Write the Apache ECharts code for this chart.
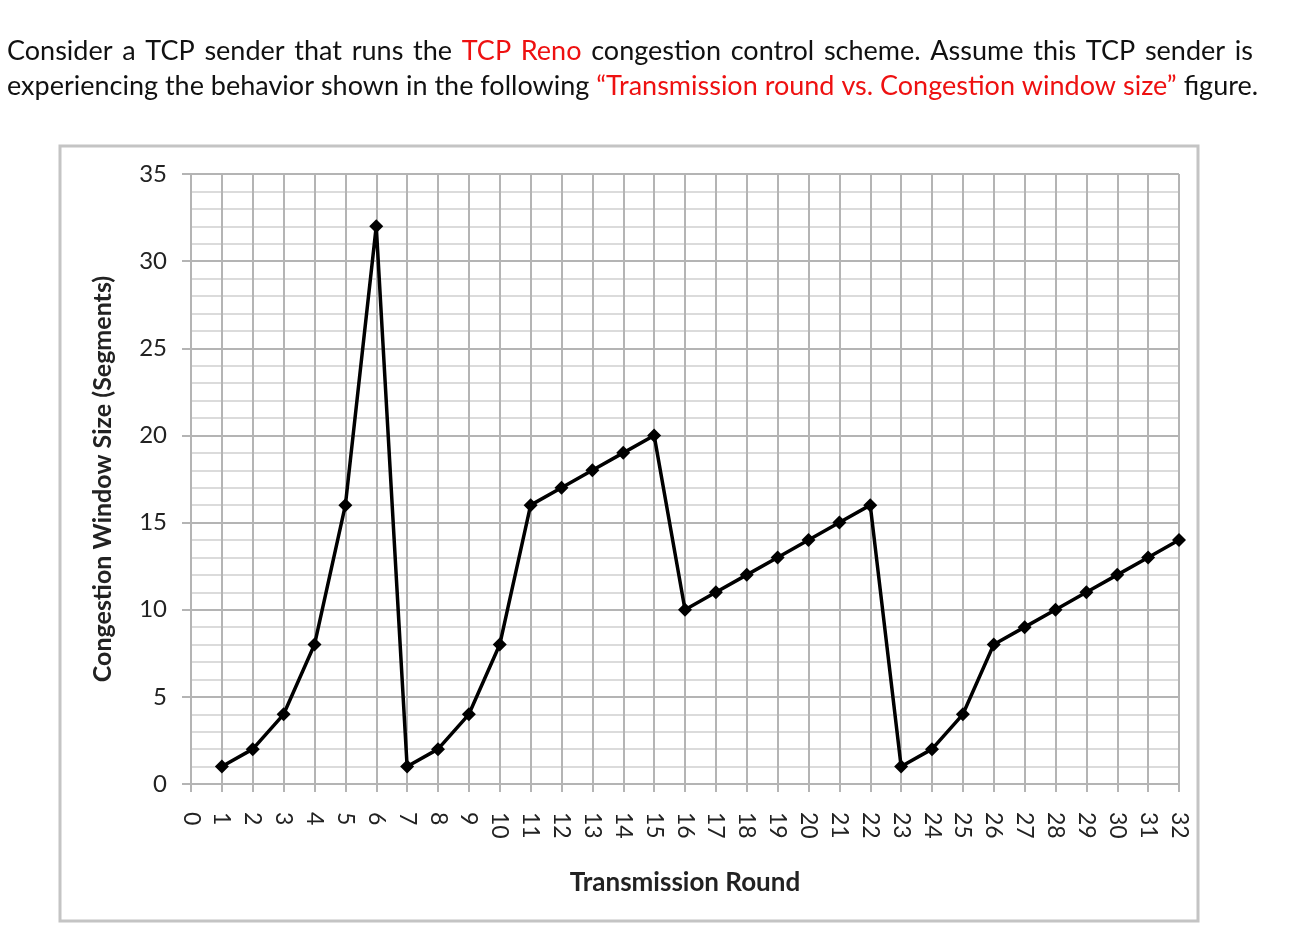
<!DOCTYPE html>
<html><head><meta charset="utf-8">
<script src="https://cdn.jsdelivr.net/npm/echarts@6/dist/echarts.min.js"></script>
<style>html,body{margin:0;padding:0;background:#fff}#c{width:1306px;height:946px}</style>
</head><body><div id="c"></div>
<script>
const rounds = [1,2,3,4,5,6,7,8,9,10,11,12,13,14,15,16,17,18,19,20,21,22,23,24,25,26,27,28,29,30,31,32];
const cwnd = [1,2,4,8,16,32,1,2,4,8,16,17,18,19,20,10,11,12,13,14,15,16,1,2,4,8,9,10,11,12,13,14];
const xName = 'Transmission Round';
const yName = 'Congestion Window Size (Segments)';
const line1 = ['Consider a TCP sender that runs the ', 'TCP Reno', ' congestion control scheme. Assume this TCP sender is'];
const line2 = ['experiencing the behavior shown in the following ', '\u201CTransmission round vs. Congestion window size\u201D', ' figure.'];

const F = 'Lato, "Open Sans", sans-serif';
const TFS = 27;
const BLACK = '#111', RED = '#ee1111';

// justified first line: split into words, keep colour of each segment
const words = [];
line1.forEach((seg, i) => {
  seg.split(' ').filter(w => w.length).forEach(w => words.push({w, c: i === 1 ? RED : BLACK}));
});
const ctx = document.createElement('canvas').getContext('2d');
ctx.font = TFS + 'px ' + F;
const widths = words.map(o => ctx.measureText(o.w).width);
const L = 7, R = 1253;
const gap = (R - L - widths.reduce((a,b)=>a+b,0)) / (words.length - 1);
const titleGraphics = [];
let cx = L;
words.forEach((o, i) => {
  titleGraphics.push({type:'text', x:cx, y:38, style:{text:o.w, fontFamily:F, fontSize:TFS, fill:o.c}});
  cx += widths[i] + gap;
});
titleGraphics.push({type:'text', x:7, y:73, style:{
  text:'{a|'+line2[0]+'}{r|'+line2[1]+'}{a|'+line2[2]+'}',
  rich:{a:{fontFamily:F,fontSize:TFS,fill:BLACK}, r:{fontFamily:F,fontSize:TFS,fill:RED}}
}});

const chart = echarts.init(document.getElementById('c'), null, {renderer:'canvas'});
const gridCol = '#b4b4b4';
chart.setOption({
  animation:false,
  backgroundColor:'#fff',
  graphic:[
    {type:'rect', shape:{x:60,y:146,width:1138,height:775}, style:{fill:'none', stroke:'#c4c4c4', lineWidth:3}, z:-1}
  ].concat(titleGraphics),
  grid:{left:191, right:127, top:174, bottom:162, containLabel:false},
  xAxis:{
    type:'value', min:0, max:32, interval:1,
    name:xName, nameLocation:'middle', nameGap:86,
    nameTextStyle:{fontFamily:F, fontSize:26, fontWeight:'bold', color:'#222'},
    axisLine:{show:true, onZero:false, lineStyle:{color:gridCol, width:2}},
    axisTick:{show:true, length:8, lineStyle:{color:gridCol, width:2}},
    axisLabel:{rotate:-90, margin:28, fontFamily:F, fontSize:23, color:'#222'},
    splitLine:{show:true, lineStyle:{color:gridCol, width:2}}
  },
  yAxis:{
    type:'value', min:0, max:35, interval:5,
    name:yName, nameLocation:'middle', nameGap:76,
    nameTextStyle:{fontFamily:F, fontSize:25, fontWeight:'bold', color:'#222'},
    axisLine:{show:true, lineStyle:{color:gridCol, width:2}},
    axisTick:{show:true, length:9, lineStyle:{color:gridCol, width:2}},
    axisLabel:{margin:24, fontFamily:F, fontSize:24, color:'#222'},
    splitLine:{show:true, lineStyle:{color:gridCol, width:2}},
    minorTick:{show:false, splitNumber:5},
    minorSplitLine:{show:true, lineStyle:{color:'#cfcfcf', width:1.5}}
  },
  series:[{
    type:'line',
    data:rounds.map((r,i)=>[r,cwnd[i]]),
    symbol:'diamond', symbolSize:14,
    lineStyle:{color:'#000', width:3.5},
    itemStyle:{color:'#000'}
  }]
});
</script></body></html>
